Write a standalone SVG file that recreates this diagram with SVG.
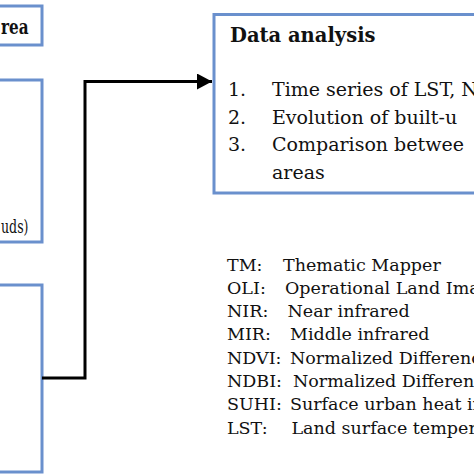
<svg xmlns="http://www.w3.org/2000/svg" width="474" height="474" viewBox="0 0 474 474">
<defs>
<style>
.box{fill:#ffffff;stroke:#6a90cd;stroke-width:3}
.t{font-family:"DejaVu Serif","Liberation Serif",serif;fill:#111111}
.b{font-weight:bold}
.list{font-size:19px}
.leg{font-size:17.5px}
.conn{fill:none;stroke:#000000;stroke-width:3}
</style>
<marker id="arr" markerWidth="16" markerHeight="16" viewBox="0 0 16 16" refX="15" refY="8" orient="auto" markerUnits="userSpaceOnUse">
<path d="M0,0 L15,8 L0,16 Z" fill="#000000"/>
</marker>
</defs>
<rect width="474" height="474" fill="#ffffff"/>
<g id="study-area">
<rect class="box" x="-20" y="6" width="62" height="39"/>
<text class="t b" x="1" y="34" font-size="19.5" textLength="27.5" lengthAdjust="spacingAndGlyphs">rea</text>
</g>
<g id="node-2">
<rect class="box" x="-20" y="80" width="62" height="162"/>
<text class="t list" x="1" y="233" textLength="27.5" lengthAdjust="spacingAndGlyphs">uds)</text>
</g>
<g id="node-3">
<rect class="box" x="-20" y="285" width="62" height="187"/>
</g>
<g id="connectors">
<path class="conn" d="M42,378 H85 V81.5 H212" marker-end="url(#arr)"/>
</g>
<g id="data-analysis">
<rect class="box" x="214" y="14.5" width="280" height="178.5"/>
<text class="t b" x="230" y="41.5" font-size="19.5">Data analysis</text>
<text class="t list" x="228" y="96">1.</text>
<text class="t list" x="272" y="96">Time series of LST, N</text>
<text class="t list" x="228" y="123.5">2.</text>
<text class="t list" x="272" y="123.5">Evolution of built-u</text>
<text class="t list" x="228" y="151">3.</text>
<text class="t list" x="272" y="151">Comparison betwee</text>
<text class="t list" x="272" y="178.5">areas</text>
</g>
<g id="legend">
<text class="t leg" x="227" y="270.5">TM:</text>
<text class="t leg" x="283" y="270.5">Thematic Mapper</text>
<text class="t leg" x="227" y="293.5">OLI:</text>
<text class="t leg" x="285" y="293.5">Operational Land Ima</text>
<text class="t leg" x="227" y="316.5">NIR:</text>
<text class="t leg" x="287.5" y="316.5">Near infrared</text>
<text class="t leg" x="227" y="340">MIR:</text>
<text class="t leg" x="290" y="340">Middle infrared</text>
<text class="t leg" x="227" y="363.5">NDVI:</text>
<text class="t leg" x="290" y="363.5">Normalized Differenc</text>
<text class="t leg" x="227" y="387">NDBI:</text>
<text class="t leg" x="293" y="387">Normalized Differen</text>
<text class="t leg" x="227" y="410">SUHI:</text>
<text class="t leg" x="290" y="410">Surface urban heat in</text>
<text class="t leg" x="227" y="434">LST:</text>
<text class="t leg" x="291.5" y="434">Land surface tempera</text>
</g>
</svg>
